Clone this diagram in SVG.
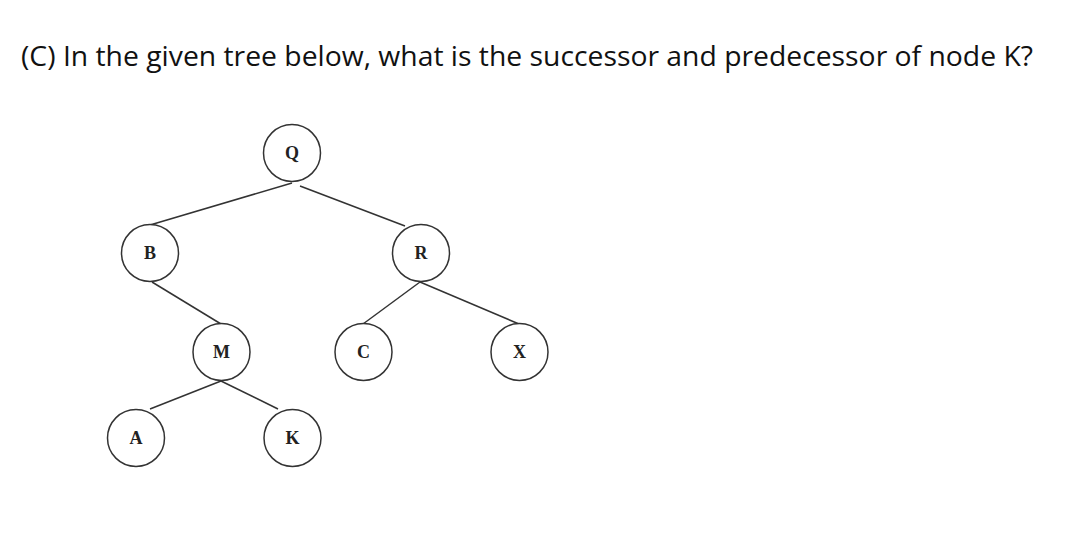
<svg xmlns="http://www.w3.org/2000/svg" width="1065" height="545" viewBox="0 0 1065 545">
<style>
.title{font-family:"Open Sans","Liberation Sans",sans-serif;font-size:28px;fill:#111}
.node circle{fill:#fff;stroke:#333;stroke-width:1.5}
.node text{font-family:"Liberation Serif","Times New Roman",serif;font-size:18px;font-weight:bold;fill:#222;text-anchor:middle;dominant-baseline:central}
.edges line{stroke:#333;stroke-width:1.5}
</style>
<rect width="1065" height="545" fill="#fff"/>
<text class="title" x="21" y="66" textLength="1012" lengthAdjust="spacingAndGlyphs">(C) In the given tree below, what is the successor and predecessor of node K?</text>
<g class="edges">
<line x1="292" y1="183" x2="150" y2="225"/>
<line x1="300" y1="186" x2="405" y2="226"/>
<line x1="152" y1="282" x2="221" y2="324"/>
<line x1="420" y1="282" x2="363" y2="324"/>
<line x1="420" y1="282" x2="519" y2="324"/>
<line x1="221" y1="381" x2="150" y2="409"/>
<line x1="221" y1="381" x2="278" y2="409"/>
</g>
<g id="Q" class="node"><circle cx="292" cy="153" r="28.5"/><text x="292" y="153">Q</text></g>
<g id="B" class="node"><circle cx="150" cy="253" r="28.5"/><text x="150" y="253">B</text></g>
<g id="R" class="node"><circle cx="421" cy="253" r="28.5"/><text x="421" y="253">R</text></g>
<g id="M" class="node"><circle cx="221.5" cy="352" r="28.5"/><text x="221.5" y="352">M</text></g>
<g id="C" class="node"><circle cx="363.5" cy="352" r="28.5"/><text x="363.5" y="352">C</text></g>
<g id="X" class="node"><circle cx="519.5" cy="352" r="28.5"/><text x="519.5" y="352">X</text></g>
<g id="A" class="node"><circle cx="136" cy="438" r="28.5"/><text x="136" y="438">A</text></g>
<g id="K" class="node"><circle cx="292.5" cy="438" r="28.5"/><text x="292.5" y="438">K</text></g>
</svg>
